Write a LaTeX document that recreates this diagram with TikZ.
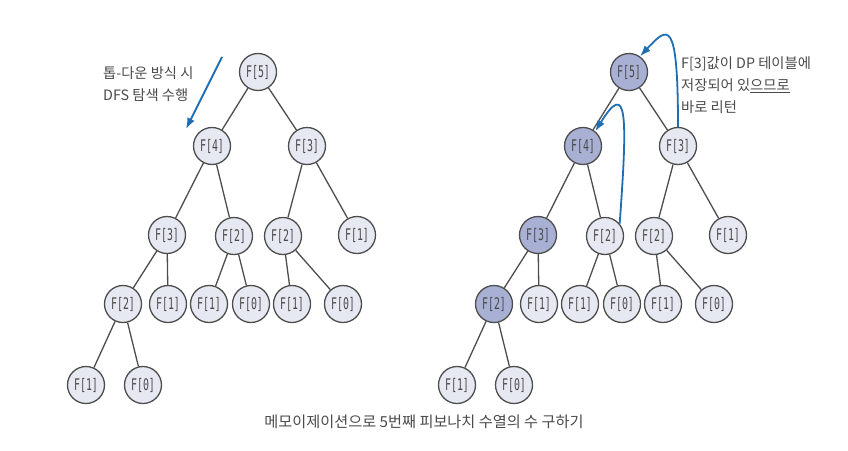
\documentclass[tikz,border=0pt]{standalone}
\usepackage{fontspec}
\setmainfont{Noto Sans CJK KR}
\newfontfamily\fibfont[FakeStretch=0.62]{DejaVu Sans Mono}
\usetikzlibrary{arrows.meta}
\definecolor{nodefill}{HTML}{E7E9F2}
\definecolor{memofill}{HTML}{A8B0D4}
\definecolor{linegray}{HTML}{4D4D4D}
\definecolor{textgray}{HTML}{4A4A4A}
\definecolor{arrowblue}{HTML}{1F6DB2}

\begin{document}
\begin{tikzpicture}[
        x=1pt, y=-1pt,
        fib/.style={circle, draw=linegray, line width=1.3pt, fill=nodefill, minimum size=37pt, inner sep=0pt, text=textgray, font=\fibfont\fontsize{16}{16}\selectfont},
        memo/.style={fib, fill=memofill},
        edge/.style={linegray, line width=1.3pt},
        back/.style={arrowblue, line width=1.8pt, -{Latex[length=11pt, width=8pt]}},
        note/.style={text=textgray, font=\fontsize{14.3}{22}\selectfont, align=left, inner sep=0pt}
    ]
    \useasboundingbox (0,0) rectangle (848,450);

    \foreach \t/\dx/\hl in {L/0/fib, R/371/memo} {
        \begin{scope}[xshift=\dx pt]
            \node[\hl] (\t-r) at (258,72) {F[5]};
            \node[\hl] (\t-a) at (212,146) {F[4]};
            \node[fib] (\t-b) at (307,146) {F[3]};

            \node[\hl] (\t-aa) at (167,235) {F[3]};
            \node[fib] (\t-ab) at (234,236) {F[2]};
            \node[fib] (\t-ba) at (283,236) {F[2]};
            \node[fib] (\t-bb) at (357,235) {F[1]};

            \node[\hl] (\t-aaa) at (123,304) {F[2]};
            \node[fib] (\t-aab) at (168,304) {F[1]};
            \node[fib] (\t-aba) at (209,304) {F[1]};
            \node[fib] (\t-abb) at (251,304) {F[0]};
            \node[fib] (\t-baa) at (292,304) {F[1]};
            \node[fib] (\t-bab) at (343,304) {F[0]};

            \node[fib] (\t-aaaa) at (86,385) {F[1]};
            \node[fib] (\t-aaab) at (143,385) {F[0]};

            \foreach \p/\c in {r/a, r/b, a/aa, a/ab, b/ba, b/bb, aa/aaa, aa/aab, ab/aba, ab/abb, ba/baa, ba/bab, aaa/aaaa, aaa/aaab}
                \draw[edge] (\t-\p) -- (\t-\c);
        \end{scope}
    }

    % top-down note
    \coordinate (dfs-from) at (222,57);
    \coordinate (dfs-to) at (186,129);
    \draw[back] (dfs-from) -- (dfs-to);
    \node[note, anchor=west] (dfs-note) at (103,84) {톱-다운 방식 시\\DFS 탐색 수행};

    % memo returns
    \draw[back] (R-b.north) .. controls +(0,-110) and +(28,-30) .. (R-r.55);
    \draw[back] (R-ab.40) .. controls +(8,-110) and +(32,-52) .. (R-a.50);
    \node[note, anchor=west] (memo-note) at (681,85) {F[3]값이 DP 테이블에\\저장되어 있\underline{으므로}\\바로 리턴};

    \node[note, font=\fontsize{15.2}{15}\selectfont] (caption) at (424,422) {메모이제이션으로 5번째 피보나치 수열의 수 구하기};
\end{tikzpicture}
\end{document}
